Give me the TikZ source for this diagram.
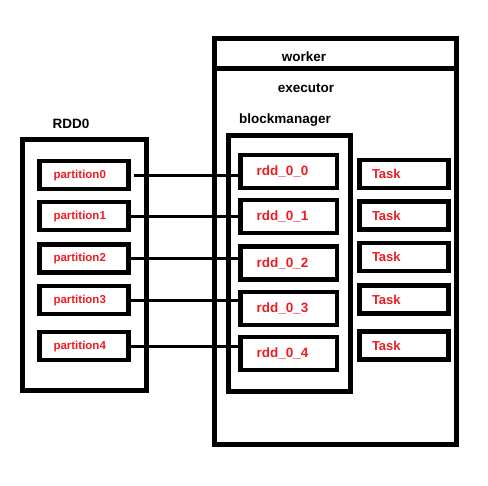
\documentclass[tikz,border=0pt]{standalone}
\usepackage{fontspec}
\setmainfont{Liberation Sans}
\usepackage{tikz}
\usetikzlibrary{positioning}
\definecolor{txtred}{RGB}{237,28,36}
\newcommand{\fs}[1]{\fontsize{#1}{#1}\selectfont\bfseries}

\begin{document}
\begin{tikzpicture}[x=1pt, y=-1pt,
  frame/.style={draw, line width=5pt, inner sep=0pt},
  part/.style={draw, line width=4.5pt, minimum height=28pt, text width=61pt, inner xsep=14pt, align=left, text=txtred, font=\fs{11.5}},
  blk/.style={draw, line width=4.5pt, minimum height=33pt, text width=64.5pt, inner xsep=16pt, align=left, text=txtred, font=\fs{13.5}},
  task/.style={draw, line width=4.5pt, minimum height=28pt, text width=64pt, inner xsep=12.5pt, align=left, text=txtred, font=\fs{13}},
  title/.style={font=\fs{13.5}},
  link/.style={line width=3pt}]
 \useasboundingbox (0,0) rectangle (488,486);
 \node[frame, minimum width=124pt, minimum height=251pt] (RDD) at (84,265) {};
 \node[title] (RDDl) at (71,124) {RDD0};
 \node[frame, minimum width=242.5pt, minimum height=405.5pt] (worker) at (335.25,241.75) {};
 \draw[frame] ([yshift=-32pt]worker.north west) -- ([yshift=-32pt]worker.north east);
 \node[title] (workerl) at (304,57) {worker};
 \node[title] (execl) at (306,88) {executor};
 \node[title] (bml) at (285,120) {blockmanager};
 \node[frame, minimum width=122pt, minimum height=256pt] (bm) at (289.5,263.5) {};
 \node[part] (p0) at (84,175.25) {partition0};
 \node[part] (p1) at (84,216.25) {partition1};
 \node[part] (p2) at (84,258.5) {partition2};
 \node[part] (p3) at (84,300.25) {partition3};
 \node[part] (p4) at (84,346.25) {partition4};
 \node[blk] (r0) at (288.75,171.75) {rdd\_0\_0};
 \node[blk] (r1) at (288.75,216.5) {rdd\_0\_1};
 \node[blk] (r2) at (288.75,263) {rdd\_0\_2};
 \node[blk] (r3) at (288.75,308.5) {rdd\_0\_3};
 \node[blk] (r4) at (288.75,353.75) {rdd\_0\_4};
 \node[task] (t0) at (404,174.25) {Task};
 \node[task] (t1) at (404,215.5) {Task};
 \node[task] (t2) at (404,257) {Task};
 \node[task] (t3) at (404,299.5) {Task};
 \node[task] (t4) at (404,345.5) {Task};
 \draw[link] ([xshift=3pt]p0.east) -- (p0.east -| r0.west);
 \draw[link] (p1.east) -- (p1.east -| r1.west);
 \draw[link] (p2.east) -- (p2.east -| r2.west);
 \draw[link] (p3.east) -- (p3.east -| r3.west);
 \draw[link] (p4.east) -- (p4.east -| r4.west);
\end{tikzpicture}
\end{document}
